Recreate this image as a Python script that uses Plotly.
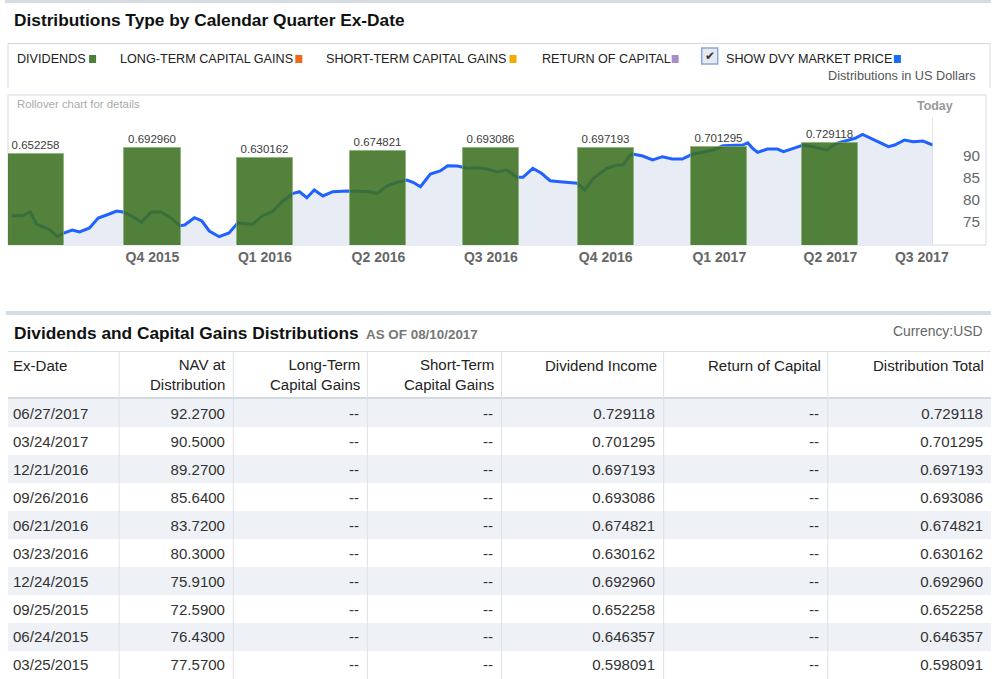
import plotly.graph_objects as go

W, H = 1003, 679          # reference geometry
FIG_W = 1020              # page width that the photograph squeezes into 1003 px
FS = FIG_W / W            # font compensation for that horizontal squeeze
FONT = "Liberation Sans, Arial, sans-serif"


def px(x):
    return min(x, W) / W


def py(y):
    return 1 - y / H


def fs(s):
    return round(s * FS, 2)


# ---------------- data ----------------
quarters = ["Q3 2015", "Q4 2015", "Q1 2016", "Q2 2016", "Q3 2016", "Q4 2016", "Q1 2017", "Q2 2017"]
quarter_dates = ["2015-08-15", "2015-11-17", "2016-02-16", "2016-05-18",
                 "2016-08-17", "2016-11-18", "2017-02-18", "2017-05-19"]
dividends = [0.652258, 0.692960, 0.630162, 0.674821, 0.693086, 0.697193, 0.701295, 0.729118]

tick_labels = ["Q4 2015", "Q1 2016", "Q2 2016", "Q3 2016", "Q4 2016", "Q1 2017", "Q2 2017", "Q3 2017"]
tick_dates = ["2015-11-17", "2016-02-16", "2016-05-18", "2016-08-17",
              "2016-11-18", "2017-02-18", "2017-05-19", "2017-08-01"]

price_dates = [
    "2015-07-26", "2015-08-04", "2015-08-10", "2015-08-15", "2015-08-20", "2015-08-26", "2015-09-01",
    "2015-09-06", "2015-09-13", "2015-09-19", "2015-09-27", "2015-10-04", "2015-10-13", "2015-10-19",
    "2015-10-24", "2015-11-01", "2015-11-08", "2015-11-16", "2015-11-24", "2015-12-02", "2015-12-09",
    "2015-12-13", "2015-12-21", "2015-12-27", "2016-01-02", "2016-01-10", "2016-01-18", "2016-01-25",
    "2016-02-06", "2016-02-14", "2016-02-22", "2016-03-01", "2016-03-10", "2016-03-15", "2016-03-21",
    "2016-03-27", "2016-04-03", "2016-04-11", "2016-04-22", "2016-05-03", "2016-05-11", "2016-05-17",
    "2016-05-25", "2016-06-02", "2016-06-10", "2016-06-15", "2016-06-21", "2016-06-29", "2016-07-07",
    "2016-07-13", "2016-07-21", "2016-07-29", "2016-08-06", "2016-08-14", "2016-08-22", "2016-08-30",
    "2016-09-07", "2016-09-12", "2016-09-20", "2016-09-27", "2016-10-04", "2016-10-12", "2016-10-20",
    "2016-10-26", "2016-11-01", "2016-11-08", "2016-11-19", "2016-11-27", "2016-12-02", "2016-12-08",
    "2016-12-10", "2016-12-18", "2016-12-26", "2017-01-03", "2017-01-11", "2017-01-19", "2017-01-27",
    "2017-02-05", "2017-02-13", "2017-02-21", "2017-03-01", "2017-03-09", "2017-03-13", "2017-03-17",
    "2017-03-21", "2017-03-29", "2017-04-06", "2017-04-11", "2017-04-19", "2017-04-27", "2017-05-05",
    "2017-05-16", "2017-05-24", "2017-06-01", "2017-06-08", "2017-06-14", "2017-06-18", "2017-06-26",
    "2017-07-05", "2017-07-10", "2017-07-18", "2017-07-25", "2017-08-02", "2017-08-10",
]
prices = [
    76.35, 76.35, 77.25, 74.49, 73.88, 73.14, 71.63,
    72.46, 73.14, 72.69, 73.59, 75.84, 76.74, 77.41,
    77.19, 76.13, 74.94, 77.19, 77.19, 75.84, 74.10,
    74.26, 75.90, 75.16, 72.91, 71.63, 72.46, 74.71,
    74.42, 76.35, 77.25, 79.50, 81.39, 81.75, 80.40,
    82.14, 80.79, 81.75, 81.91, 81.91, 81.75, 81.39,
    83.10, 83.87, 84.39, 83.87, 82.88, 85.74, 86.41,
    87.60, 87.54, 87.02, 87.15, 86.86, 86.19, 86.64,
    85.00, 85.00, 87.02, 85.89, 84.23, 84.00, 83.78,
    83.64, 82.14, 84.77, 87.02, 87.76, 87.76, 90.01,
    90.24, 89.79, 88.89, 89.63, 89.11, 89.11, 90.17,
    90.62, 91.14, 92.10, 92.26, 92.26, 92.78, 91.52,
    90.62, 91.36, 91.36, 90.75, 91.52, 92.26, 91.88,
    91.14, 92.64, 93.16, 93.77, 94.67, 94.13, 93.00,
    91.88, 92.26, 93.39, 93.00, 93.16, 92.26,
]
price_ticks = [75, 80, 85, 90]

table_headers = ["Ex-Date", "NAV at<br>Distribution", "Long-Term<br>Capital Gains",
                 "Short-Term<br>Capital Gains", "Dividend Income", "Return of Capital",
                 "Distribution Total"]
ex_dates = ["06/27/2017", "03/24/2017", "12/21/2016", "09/26/2016", "06/21/2016",
            "03/23/2016", "12/24/2015", "09/25/2015", "06/24/2015", "03/25/2015"]
nav = [92.27, 90.50, 89.27, 85.64, 83.72, 80.30, 75.91, 72.59, 76.43, 77.57]
long_term = ["--", "--", "--", "--", "--", "--", "--", "--", "--", "--"]
short_term = ["--", "--", "--", "--", "--", "--", "--", "--", "--", "--"]
dividend_income = [0.729118, 0.701295, 0.697193, 0.693086, 0.674821,
                   0.630162, 0.692960, 0.652258, 0.646357, 0.598091]
return_of_capital = ["--", "--", "--", "--", "--", "--", "--", "--", "--", "--"]
distribution_total = [0.729118, 0.701295, 0.697193, 0.693086, 0.674821,
                      0.630162, 0.692960, 0.652258, 0.646357, 0.598091]

# ---------------- colors ----------------
GREEN = "rgb(61,113,34)"
BLUE_LINE = "#1f62ff"
FILL = "#e8edf5"
BORDER = "#d3d9e1"
STRIPE = "#eef1f6"

# price axis geometry
PRICE_DOMAIN = [py(245), py(112)]
PRICE_RANGE = [69.76, 99.69]

fig = go.Figure()

# price line with area (base axis, drawn below the bars)
fig.add_trace(go.Scatter(
    x=price_dates, y=prices, mode="lines",
    line=dict(color=BLUE_LINE, width=3),
    fill="tozeroy", fillcolor=FILL,
    yaxis="y", xaxis="x", hoverinfo="skip",
))

# dividend bars (overlaying axis -> drawn above)
bar_width_ms = 45.4 * 86400000
fig.add_trace(go.Bar(
    x=quarter_dates, y=dividends,
    width=[bar_width_ms] * len(dividends),
    marker=dict(color=GREEN, line=dict(color="rgba(130,170,110,0.9)", width=1)),
    opacity=0.88,
    text=[f"{v:.6f}" for v in dividends],
    textposition="outside",
    textfont=dict(family=FONT, size=fs(11.3), color="#222"),
    cliponaxis=False,
    yaxis="y2", xaxis="x", hoverinfo="skip",
))

# table body; header text drawn as right-aligned annotations below
fmt_nav = [f"{v:.4f}" for v in nav]
fmt_div = [f"{v:.6f}" for v in dividend_income]
fmt_tot = [f"{v:.6f}" for v in distribution_total]
col_widths = [111, 114, 134, 134, 162, 164, 163]
aligns = ["left", "right", "right", "right", "right", "right", "right"]
col_edges = [8]
for w in col_widths:
    col_edges.append(col_edges[-1] + w)
tbl_left = 5
tbl_widths = [col_edges[1] - tbl_left] + col_widths[1:]
fig.add_trace(go.Table(
    domain=dict(x=[px(tbl_left), px(col_edges[-1] + 1)], y=[0, py(353)]),
    columnwidth=tbl_widths[:-1] + [tbl_widths[-1] + 1],
    header=dict(values=[""] * len(table_headers), align=aligns, height=47,
                fill=dict(color="rgba(0,0,0,0)"),
                line=dict(color="rgba(0,0,0,0)", width=1),
                font=dict(family=FONT, size=fs(14.8), color="#222")),
    cells=dict(values=[ex_dates, fmt_nav, long_term, short_term, fmt_div,
                       return_of_capital, fmt_tot],
               align=aligns, height=27.9,
               fill=dict(color="rgba(0,0,0,0)"),
               line=dict(color="rgba(0,0,0,0)", width=1),
               font=dict(family=FONT, size=fs(14.8), color="#333")),
))

shapes = []


def rect(x0, y0, x1, y1, fill=None, line=None, lw=1, layer="below"):
    shapes.append(dict(type="rect", xref="paper", yref="paper",
                       x0=px(x0), x1=px(x1), y0=py(y1), y1=py(y0),
                       fillcolor=fill or "rgba(0,0,0,0)",
                       line=dict(color=line or "rgba(0,0,0,0)", width=lw if line else 0),
                       layer=layer))


def hline(x0, x1, y, color, lw=1, layer="below"):
    shapes.append(dict(type="line", xref="paper", yref="paper",
                       x0=px(x0), x1=px(x1), y0=py(y), y1=py(y),
                       line=dict(color=color, width=lw), layer=layer))


def vline(x, y0, y1, color, lw=1, layer="below"):
    shapes.append(dict(type="line", xref="paper", yref="paper",
                       x0=px(x), x1=px(x), y0=py(y0), y1=py(y1),
                       line=dict(color=color, width=lw), layer=layer))


# top separators
rect(5, 0, 990, 3, fill="#d6dce4")
rect(6, 311, 990, 315, fill="#d6dce4")

# legend box
hline(8, 989, 43.5, BORDER)
vline(8, 43.5, 88, BORDER)
vline(989, 43.5, 88, BORDER)

# legend swatches
rect(89, 55, 96, 63, fill="#4d7f38")
rect(295, 55, 302, 63, fill="#ec6a1c")
rect(509, 55, 516, 63, fill="#f6ab00")
rect(671, 55, 678, 63, fill="#a98bc6")
rect(893, 55, 900, 63, fill="#1a6cf6")
# checkbox
rect(701, 48, 717, 64, fill="#e6e9ee", line="#86a8dc", lw=1.5, layer="above")

# chart box
rect(8, 95, 985, 245, line=BORDER)
# "today" marker line
shapes.append(dict(type="line", xref="x", yref="paper",
                   x0="2017-08-10", x1="2017-08-10", y0=py(245), y1=py(117),
                   line=dict(color="#cfd5dd", width=1), layer="above"))

# table structure
n_rows = len(ex_dates)
row_top = 399
row_h = 28
for i in range(0, n_rows, 2):
    rect(8, row_top + i * row_h, 990, row_top + (i + 1) * row_h, fill=STRIPE)
hline(8, 990, 351.5, "#dde2e8")
hline(8, 990, 398, "#d3d9e1", lw=2)
for xe in col_edges[1:-1]:
    vline(xe, 351, 679, "#dde2e8")

annotations = []


def note(text, x, y, size, color, anchor="left", bold=False, align="left"):
    if bold:
        text = f"<b>{text}</b>"
    annotations.append(dict(text=text, x=px(x), y=py(y), xref="paper", yref="paper",
                            xanchor=anchor, yanchor="middle", showarrow=False, align=align,
                            font=dict(family=FONT, size=fs(size), color=color)))


note("Distributions Type by Calendar Quarter Ex-Date", 12, 20, 17, "#111", bold=True)
note("DIVIDENDS", 15, 59, 12.4, "#222")
note("LONG-TERM CAPITAL GAINS", 118, 59, 12.4, "#222")
note("SHORT-TERM CAPITAL GAINS", 324, 59, 12.4, "#222")
note("RETURN OF CAPITAL", 539, 59, 12.4, "#222")
note("SHOW DVY MARKET PRICE", 723, 59, 12.4, "#222")
note("✔", 709, 56, 12, "#333", anchor="center")
note("Distributions in US Dollars", 977, 75, 12.5, "#555", anchor="right")
note("Rollover chart for details", 15, 104, 11.2, "#aaa")
note("Today", 934, 106, 12.2, "#999", anchor="center", bold=True)

note("Dividends and Capital Gains Distributions", 12, 333, 17, "#111", bold=True)
note("AS OF 08/10/2017", 364, 334, 13.2, "#777", bold=True)
note("Currency:USD", 983, 331, 13.65, "#666", anchor="right")

# price-axis labels: value -> paper position through the price axis' linear scale
for t in price_ticks:
    frac = (t - PRICE_RANGE[0]) / (PRICE_RANGE[1] - PRICE_RANGE[0])
    y_paper = PRICE_DOMAIN[0] + frac * (PRICE_DOMAIN[1] - PRICE_DOMAIN[0])
    annotations.append(dict(text=str(t), x=px(981), y=y_paper, xref="paper", yref="paper",
                            xanchor="right", yanchor="middle", showarrow=False,
                            font=dict(family=FONT, size=fs(15), color="#666")))

# table header labels
for j, htxt in enumerate(table_headers):
    yc = 375 if "<br>" in htxt else 366
    if aligns[j] == "left":
        note(htxt, col_edges[j] + 3, yc - 0.5, 14.8, "#222")
    else:
        note(htxt, col_edges[j + 1] - 5, yc - 0.5, 14.8, "#222", anchor="right", align="right")

fig.update_layout(
    width=FIG_W, height=H, autosize=False,
    margin=dict(l=0, r=0, t=0, b=0),
    paper_bgcolor="white", plot_bgcolor="rgba(0,0,0,0)",
    showlegend=False, hovermode=False, bargap=0,
    font=dict(family=FONT),
    xaxis=dict(type="date", domain=[px(8), px(932)],
               range=["2015-07-23", "2017-08-10"],
               tickvals=tick_dates, ticktext=[f"<b>{t}</b>" for t in tick_labels],
               tickfont=dict(family=FONT, size=fs(13.8), color="#666"),
               ticklabelstandoff=2,
               showgrid=False, zeroline=False, showline=False, ticks="",
               anchor="y"),
    yaxis=dict(domain=PRICE_DOMAIN, range=PRICE_RANGE,
               side="right", anchor="x", showticklabels=False,
               tickvals=price_ticks,
               showgrid=False, zeroline=False, showline=False, ticks=""),
    yaxis2=dict(overlaying="y", range=[0.0516, 0.9324], visible=False,
                anchor="x"),
    shapes=shapes,
    annotations=annotations,
)

fig.write_html(
    "out.html",
    config={"responsive": False, "displayModeBar": False},
    post_script="document.documentElement.style.overflow='hidden';document.body.style.margin='0';",
)
